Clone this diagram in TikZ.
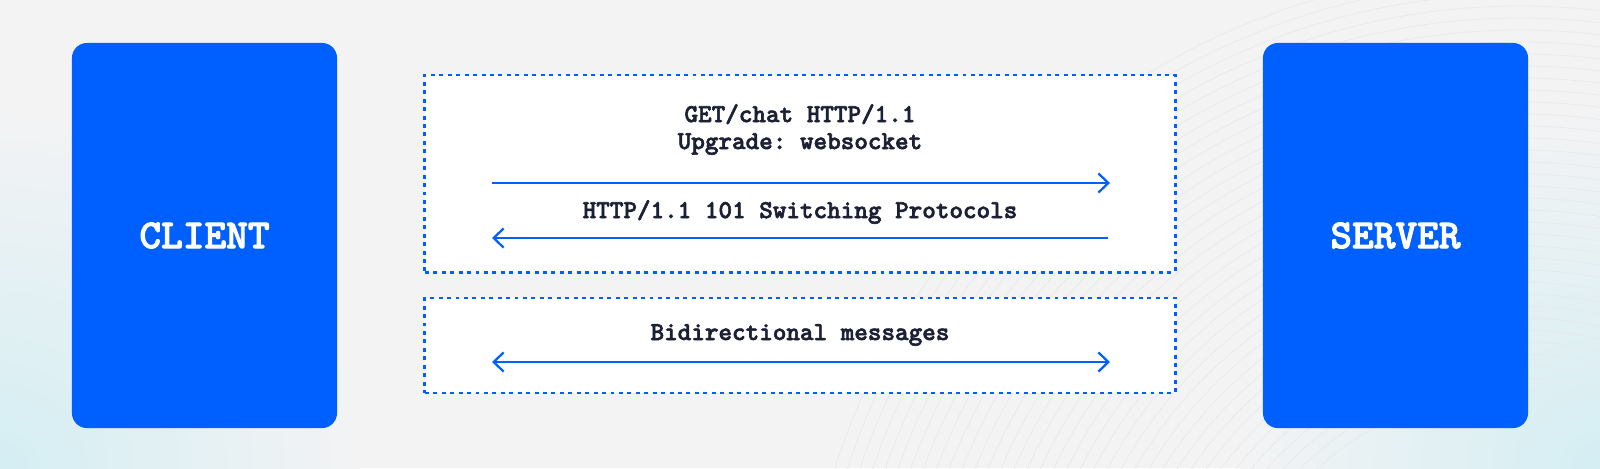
\documentclass[tikz,border=0pt]{standalone}
\usepackage{fontspec}
\newfontfamily\wsmono{lmmonolt10-bold.otf}[FakeBold=2.2]
\usetikzlibrary{arrows.meta, positioning}
\definecolor{wsblue}{HTML}{0060FF}
\definecolor{wsink}{HTML}{1C2034}
\definecolor{wsbg}{HTML}{F3F3F4}
\definecolor{wsteal}{HTML}{D4EEF3}
\definecolor{wsring}{HTML}{E7E8EB}
\tikzstyle{peer} = [rectangle, rounded corners=0.375cm, minimum width=6.625cm, minimum height=9.625cm, text=white, fill=wsblue, font=\wsmono\fontsize{29.4}{34}\selectfont]
\tikzstyle{frame} = [rectangle, draw=wsblue, fill=white, line width=2.1pt, dash pattern=on 2.8pt off 3.2pt, minimum width=18.75cm]
\tikzstyle{msg} = [text=wsink, font=\wsmono\frenchspacing\fontsize{18.4}{19.2}\selectfont]
\tikzstyle{wire} = [wsblue, line width=1.4pt, >={Straight Barb[length=0.25cm, width=0.48cm, line width=1.6pt]}]

\begin{document}
\begin{tikzpicture}[align=center, x=0.025cm, y=-0.025cm]
  \useasboundingbox (0,0) rectangle (1600,468);
  % background
  \begin{scope}
    \clip (0,0) rectangle (1600,468);
    \fill [wsbg] (0,0) rectangle (1600,468);
    \shade [inner color=wsteal, outer color=wsbg] (0,470) circle [radius=9cm];
    \shade [inner color=wsteal, outer color=wsbg] (1600,470) circle [radius=9cm];
    \clip (820,0) rectangle (1600,468);
    \foreach \r in {300,312,...,720}
      \draw [wsring, line width=0.4pt] (1520,690) circle [radius=\r*0.025cm];
  \end{scope}

  \node (client) [peer] at (204.5,235.5) {CLIENT};
  \node (server) [peer] at (1395.5,235.5) {SERVER};

  \node (handshake) [frame, minimum height=4.925cm] at (800,173.5) {};
  \node (stream) [frame, minimum height=2.375cm] at (800,345.5) {};

  \node (upgrade) [msg] at (800,129.5) {GET/chat HTTP/1.1\\Upgrade: websocket};
  \node (switching) [msg] at (800,212) {HTTP/1.1 101 Switching Protocols};
  \node (bidi) [msg] at (800,335) {Bidirectional messages};

  \coordinate (reqa) at (492,183);
  \coordinate (reqb) at (1110,183);
  \coordinate (resa) at (1108,238);
  \coordinate (resb) at (492,238);
  \coordinate (bia) at (492,362);
  \coordinate (bib) at (1110,362);
  \draw [wire, ->] (reqa) -- (reqb);
  \draw [wire, ->] (resa) -- (resb);
  \draw [wire, <->] (bia) -- (bib);
\end{tikzpicture}
\end{document}
